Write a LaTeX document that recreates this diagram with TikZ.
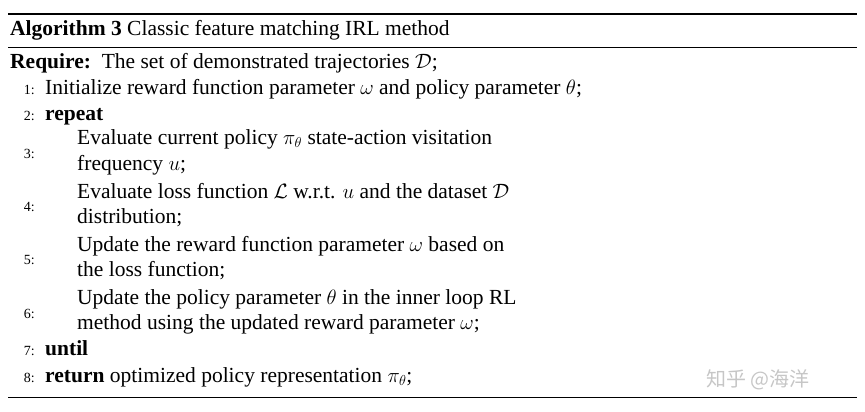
\documentclass[tikz,border=0pt]{standalone}
\usepackage{fontspec}
\setmainfont{Liberation Serif}
\newfontfamily\cjk{Noto Sans CJK SC}
\begin{document}
\begin{tikzpicture}[x=1pt,y=-1pt,
  txt/.style={anchor=base west,inner sep=0pt,font=\fontsize{21.5}{24}\selectfont},
  num/.style={anchor=base east,inner sep=0pt,font=\fontsize{14}{16}\selectfont}]
\useasboundingbox (0,0) rectangle (865,412);
\draw[line width=1.6pt] (8,14) -- (857,14);
\draw[line width=0.7pt] (8,47) -- (857,47);
\draw[line width=0.7pt] (8,397) -- (857,397);
\node[txt] (title) at (10,36) {\textbf{Algorithm 3} Classic feature matching IRL method};
\node[txt] (req) at (10,69) {\textbf{Require:}\ \ The set of demonstrated trajectories $\mathcal{D}$;};
\node[num] (n1) at (35,94) {1:};
\node[txt] (l1) at (45,94) {Initialize reward function parameter $\omega$ and policy parameter $\theta$;};
\node[num] (n2) at (35,120) {2:};
\node[txt] (l2) at (45,120) {\textbf{repeat}};
\node[num] (n3) at (35,158) {3:};
\node[txt] (l3a) at (77,144) {Evaluate current policy $\pi_\theta$ state-action visitation};
\node[txt] (l3b) at (77,170) {frequency $u$;};
\node[num] (n4) at (35,211) {4:};
\node[txt] (l4a) at (77,198) {Evaluate loss function $\mathcal{L}$ w.r.t. $u$ and the dataset $\mathcal{D}$};
\node[txt] (l4b) at (77,223) {distribution;};
\node[num] (n5) at (35,264) {5:};
\node[txt] (l5a) at (77,251) {Update the reward function parameter $\omega$ based on};
\node[txt] (l5b) at (77,276) {the loss function;};
\node[num] (n6) at (35,318) {6:};
\node[txt] (l6a) at (77,304) {Update the policy parameter $\theta$ in the inner loop RL};
\node[txt] (l6b) at (77,329) {method using the updated reward parameter $\omega$;};
\node[num] (n7) at (35,355) {7:};
\node[txt] (l7) at (45,355) {\textbf{until}};
\node[num] (n8) at (35,382) {8:};
\node[txt] (l8) at (45,382) {\textbf{return} optimized policy representation $\pi_\theta$;};
\node[anchor=base west,inner sep=0pt,text=gray!45,font=\cjk\fontsize{20}{22}\selectfont] (wm) at (706,386) {知乎 @海洋};
\end{tikzpicture}
\end{document}
